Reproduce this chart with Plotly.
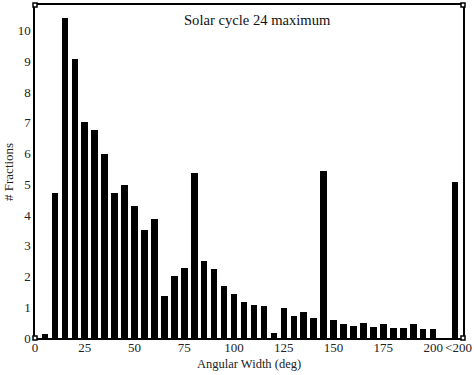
import plotly.graph_objects as go

# Bin centres (deg) and fractions (%)
bin_centres = [5, 10, 15, 20, 25, 30, 35, 40, 45, 50, 55, 60, 65, 70, 75, 80, 85, 90, 95,
               100, 105, 110, 115, 120, 125, 130, 135, 140, 145, 150, 155, 160, 165, 170,
               175, 180, 185, 190, 195, 200]
fractions = [0.12, 4.70, 10.41, 9.06, 7.02, 6.76, 5.97, 4.70, 4.97, 4.30, 3.52, 3.87, 1.37,
             2.02, 2.29, 5.36, 2.51, 2.24, 1.70, 1.42, 1.18, 1.07, 1.05, 0.15, 0.96, 0.70,
             0.85, 0.65, 5.43, 0.58, 0.45, 0.39, 0.48, 0.35, 0.44, 0.32, 0.32, 0.45, 0.30,
             0.30]
over_label = "<200"
over_position = 211
over_tick_position = 212.8
over_value = 5.07

x_tick_vals = [0, 25, 50, 75, 100, 125, 150, 175, 200, over_tick_position]
x_tick_text = ["0", "25", "50", "75", "100", "125", "150", "175", "200", over_label]
y_tick_vals = list(range(0, 11))

font_family = "Liberation Serif"

fig = go.Figure()
fig.add_trace(go.Bar(
    x=bin_centres + [over_position],
    y=fractions + [over_value],
    width=3.3,
    marker=dict(color="black", line=dict(width=0)),
    showlegend=False,
    cliponaxis=False,
))

# small corner squares of the frame
for (cx, cy) in [(0, 0), (0, 1), (1, 0), (1, 1)]:
    fig.add_shape(type="rect", xref="paper", yref="paper",
                  x0=-2, x1=2, y0=-2, y1=2,
                  xsizemode="pixel", ysizemode="pixel", xanchor=cx, yanchor=cy,
                  line=dict(color="black", width=1.5), fillcolor="white")

fig.update_layout(
    width=474, height=375,
    margin=dict(l=35, r=11, t=5, b=37, autoexpand=False),
    paper_bgcolor="white", plot_bgcolor="white",
    font=dict(family=font_family, size=13, color="#222"),
    bargap=0,
    annotations=[
        dict(text="Solar cycle 24 maximum", xref="paper", yref="paper",
             x=0.52, y=0.985, xanchor="center", yanchor="top", showarrow=False,
             font=dict(family=font_family, size=14.6, color="#111")),
        dict(text="# Fractions", xref="paper", yref="paper", x=-0.062, y=0.5,
             xanchor="center", yanchor="middle", textangle=-90, showarrow=False,
             font=dict(family=font_family, size=13, color="#222")),
        dict(text="Angular Width (deg)", xref="paper", yref="paper", x=0.5, y=-0.078,
             xanchor="center", yanchor="middle", showarrow=False,
             font=dict(family=font_family, size=12.5, color="#222")),
    ],
)

fig.update_xaxes(
    range=[0, 215], tickvals=x_tick_vals, ticktext=x_tick_text, tickangle=0,
    showline=True, linecolor="black", linewidth=1.5, mirror=True,
    showgrid=False, zeroline=False, ticks="", automargin=False,
    ticklabelstandoff=-3,
    tickfont=dict(family=font_family, size=13, color="#222"),
)
fig.update_yaxes(
    range=[0, 10.83], tickvals=y_tick_vals, automargin=False,
    showline=True, linecolor="black", linewidth=1.5, mirror=True,
    showgrid=False, zeroline=False, ticks="",
    tickfont=dict(family=font_family, size=13, color="#222"),
)

fig.write_html("out.html", config={"displayModeBar": False},
               post_script="document.body.style.margin='0';document.body.style.padding='0';")
